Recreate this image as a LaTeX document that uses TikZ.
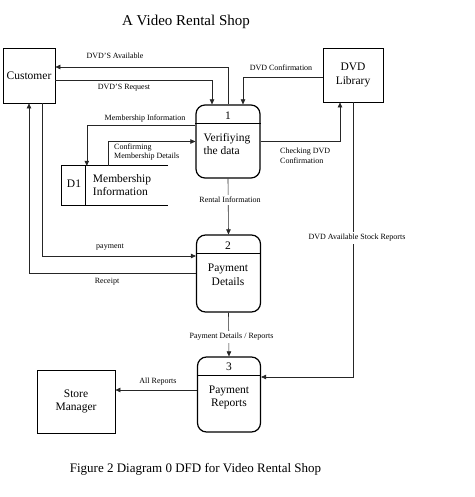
\documentclass[tikz,border=0pt]{standalone}
\usepackage{fontspec}
\setmainfont{Liberation Serif}
\usepackage{tikz}
\usetikzlibrary{
	arrows.meta,
	calc,
	positioning
}

\tikzset{
	ext/.style={draw, line width=0.8pt, inner sep=2pt, align=center,
		font=\fontsize{11.5}{13.5}\selectfont},
	proc/.style={draw, line width=1.2pt, rounded corners=9pt, inner sep=0pt},
	ptext/.style={font=\fontsize{11.5}{13.5}\selectfont, align=center, inner sep=1pt},
	flow/.style={draw=black!85, line width=0.6pt, -{Triangle[length=5pt,width=4.5pt]}},
	lbl/.style={font=\fontsize{8}{9.5}\selectfont, inner sep=1pt},
	cut/.style={lbl, fill=white, inner sep=2pt}
}

\begin{document}
\begin{tikzpicture}[x=1pt, y=-1pt]
			\useasboundingbox (0,0) rectangle (474,497);
			\node[font=\fontsize{15}{18}\selectfont] (title) at (186,22) {A Video Rental Shop};
			% external entities
			\node[ext, minimum width=52pt, minimum height=55pt] (cust) at (29,75.5) {Customer};
			\node[ext, minimum width=60pt, minimum height=54pt] (lib) at (353,75) {DVD\\Library};
			\node[ext, minimum width=78pt, minimum height=63pt] (mgr) at (76,401.5) {Store\\Manager};
			% processes
			\node[proc, minimum width=64pt, minimum height=73pt] (p1) at (228,141.5) {};
			\node[proc, minimum width=64pt, minimum height=77pt] (p2) at (228.5,273.5) {};
			\node[proc, minimum width=63pt, minimum height=75pt] (p3) at (229,394.5) {};
			\foreach \p in {p1,p2,p3}
				\draw[line width=1.2pt] ([yshift=-19pt]\p.north west) -- ([yshift=-19pt]\p.north east);
			\node[ptext] (n1) at (228,116) {1};
			\node[ptext] (n2) at (228,246) {2};
			\node[ptext] (n3) at (229,367) {3};
			\node[ptext, align=left] (t1) at (227,144) {Verifiying\\the data};
			\node[ptext] (t2) at (228,275) {Payment\\Details};
			\node[ptext] (t3) at (229,397.5) {Payment\\Reports};
			% data store
			\node[minimum width=106pt, minimum height=39pt, inner sep=0pt] (d1) at (115,185.5) {};
			\draw[line width=1pt] (d1.north east) -- (d1.north west) -- (d1.south west) -- (d1.south east);
			\draw[line width=0.8pt] ([xshift=24pt]d1.north west) -- ([xshift=24pt]d1.south west);
			\node[ptext] (d1id) at (74,184) {D1};
			\node[ptext, align=left] (d1name) at (122,185) {Membership\\Information};
			% flows
			\draw[flow] (p1.north) |- ([yshift=8.5pt]cust.east);
			\draw[flow] ([yshift=-4.5pt]cust.east) -| ([xshift=-16pt]p1.north);
			\draw[flow] ([yshift=-2pt]lib.west) -| ([xshift=15pt]p1.north);
			\draw[flow] (p1.east) -| ([xshift=-13pt]lib.south);
			\draw[flow] (lib.south) |- ([yshift=17.5pt]p3.east);
			\draw[flow] ([yshift=16.5pt]p1.west) -| ([xshift=25pt]d1.north west);
			\draw[flow] ([xshift=46pt]d1.north west) |- (p1.west);
			\draw[flow] (p1.south) -- (p2.north);
			\draw[flow] ([xshift=13pt]cust.south) |- ([yshift=17.5pt]p2.west);
			\draw[flow] (p2.west) -| (cust.south);
			\draw[flow] (p2.south) -- (p3.north);
			\draw[flow] ([yshift=4.5pt]p3.west) -- ([yshift=11.5pt]mgr.east);
			% flow labels
			\node[lbl] (avail) at (115,56) {DVD'S Available};
			\node[lbl] (req) at (124,88) {DVD'S Request};
			\node[lbl] (memb) at (145,119) {Membership Information};
			\node[lbl] (conf) at (281,68) {DVD Confirmation};
			\node[lbl, align=left, anchor=west] (check) at (279,156) {Checking DVD\\Confirmation};
			\node[lbl, align=left, anchor=west] (cmemb) at (113,152) {Confirming\\Membership Details};
			\node[cut] (rental) at (230,200) {Rental Information};
			\node[cut] (stock) at (357,238) {DVD Available Stock Reports};
			\node[lbl] (pay) at (110,247) {payment};
			\node[lbl] (rcpt) at (107,282) {Receipt};
			\node[cut] (prep) at (231.5,337) {Payment Details / Reports};
			\node[lbl] (allrep) at (158,382) {All Reports};
			\node[font=\fontsize{13}{15}\selectfont] (caption) at (195.5,469) {Figure 2 Diagram 0 DFD for Video Rental Shop};
		\end{tikzpicture}
\end{document}
